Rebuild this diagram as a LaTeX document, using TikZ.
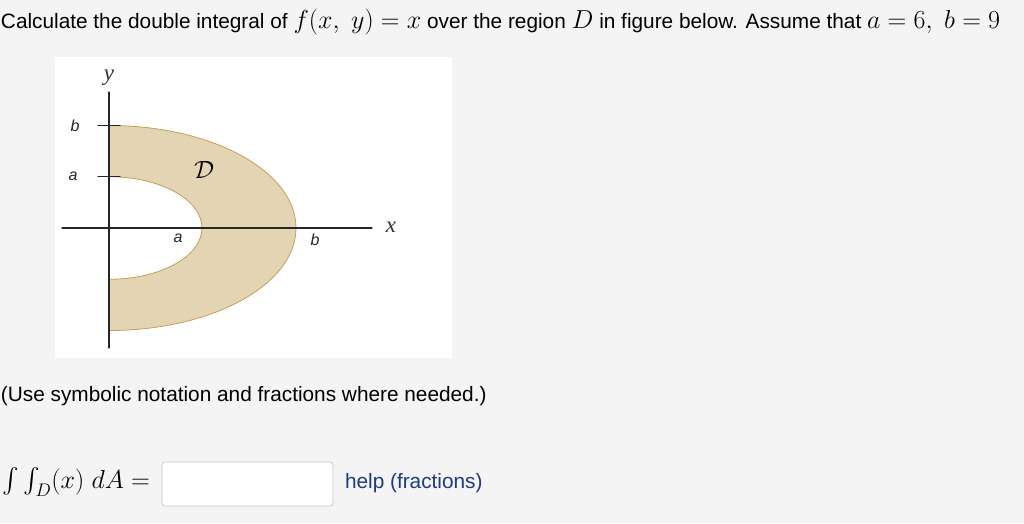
\RequirePackage{fix-cm}
\documentclass[tikz,border=0pt]{standalone}
\usepackage{exscale}
\usepackage[no-math]{fontspec}
\setmainfont{Liberation Sans}
\newfontfamily\axisfont{Liberation Serif}
\usetikzlibrary{positioning}
\definecolor{pagegray}{HTML}{F4F4F4}
\definecolor{regionfill}{RGB}{227,213,180}
\definecolor{regionedge}{RGB}{196,158,92}
\definecolor{helpblue}{RGB}{29,58,130}
\definecolor{boxedge}{RGB}{200,200,200}
\newcommand\mth[1]{{\fontsize{26}{30}\selectfont$#1$}}
\begin{document}
\begin{tikzpicture}[x=1pt,y=1pt,line join=round,line cap=round,>=stealth]
\tikzset{every node/.style={inner sep=0pt,outer sep=0pt},
  txt/.style={anchor=base west,font=\fontsize{20.8}{24}\selectfont},
  lbl/.style={font=\fontsize{16}{18}\selectfont\itshape,text=black!85},
  axislbl/.style={font=\fontsize{23}{26}\selectfont\axisfont\itshape,text=black!80},
  axis/.style={line width=1.2pt,black!85}}
\fill[pagegray] (-109,-295) rectangle (915,228);
\fill[white] (-54,-130) rectangle (343,171);
% region D
\draw[regionedge,fill=regionfill,line width=0.8pt] (0,102.5)
  arc[start angle=90,end angle=-90,x radius=187,y radius=102.5] -- (0,-51.3)
  arc[start angle=-90,end angle=90,x radius=93,y radius=51.3] -- cycle;
% axes
\coordinate (xl) at (-47,0);
\coordinate (xr) at (263,0);
\coordinate (yb) at (0,-120);
\coordinate (yt) at (0,136);
\draw[axis] (xl) -- (xr);
\draw[axis] (yb) -- (yt);
\coordinate (tb1) at (-11,102.5); \coordinate (tb2) at (11,102.5);
\coordinate (ta1) at (-11,51.3); \coordinate (ta2) at (11,51.3);
\draw[axis] (tb1) -- (tb2);
\draw[axis] (ta1) -- (ta2);
\node[axislbl] (xlab) at (282,1) {x};
\node[axislbl] (ylab) at (0,150) {y};
\node[lbl] (blab) at (-34,102) {b};
\node[lbl] (alab) at (-36,52) {a};
\node[lbl] (axa) at (69,-10) {a};
\node[lbl] (axb) at (206,-12) {b};
\node[font=\fontsize{25}{28}\selectfont] (dlab) at (95,58) {$\mathcal{D}$};
% texts
\node[txt] (title) at (-108,200) {Calculate the double integral of \mth{f(x,\;y)=x} over the region \mth{D} in figure below. Assume that \mth{a=6,\;b=9}};
\node[txt] (hint) at (-108,-173) {(Use symbolic notation and fractions where needed.)};
\node[txt] (integ) at (-106,-260) {\mth{\int\int_D(x)\;dA=}};
\node[draw=boxedge,fill=white,rounded corners=3pt,line width=0.8pt,minimum width=171pt,minimum height=44pt,anchor=north west] (answer) at (53,-234) {};
\node[txt,text=helpblue] (help) at (236,-260) {help (fractions)};
\end{tikzpicture}
\end{document}
